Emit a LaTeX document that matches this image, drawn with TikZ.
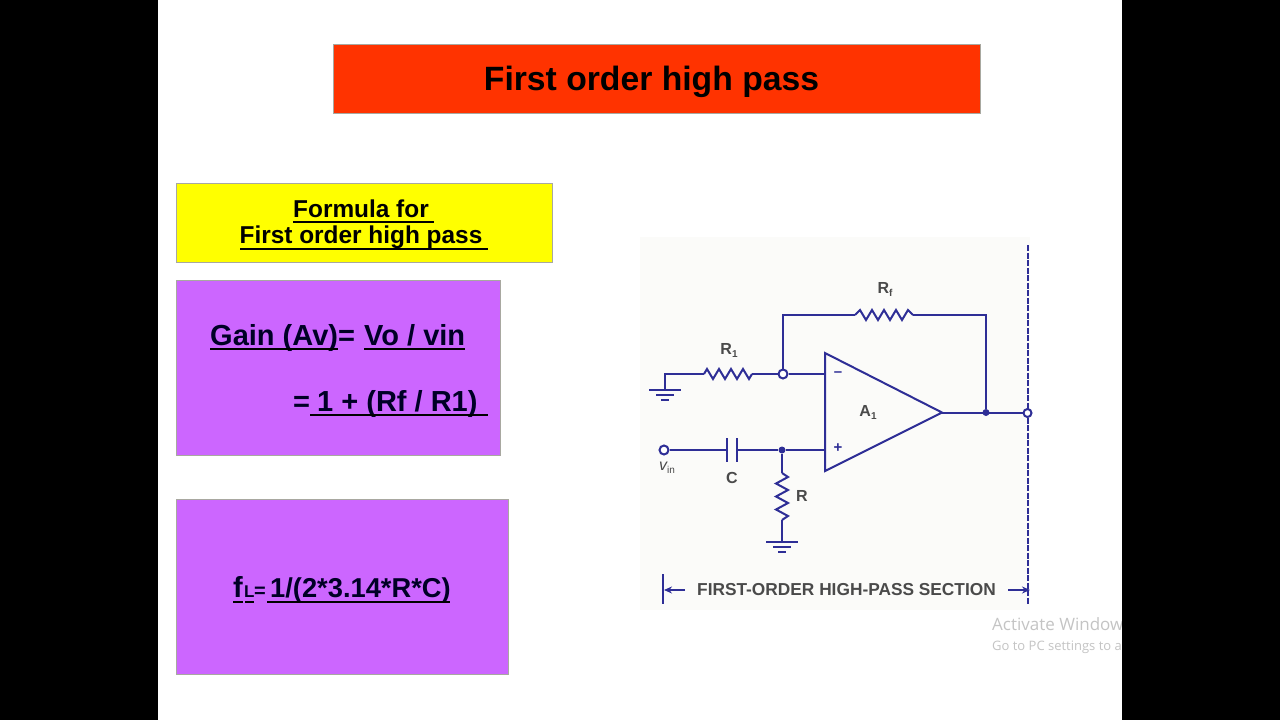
\documentclass[tikz,border=0pt]{standalone}
\usepackage{fontspec}
\setmainfont{Liberation Sans}
\newfontfamily\winfont{Open Sans}
\definecolor{wireblue}{HTML}{2E2E96}
\definecolor{purplebox}{HTML}{CC66FF}
\definecolor{redbox}{HTML}{FF3300}
\definecolor{yellowbox}{HTML}{FFFF00}
\definecolor{boxedge}{HTML}{A8A8A0}
\definecolor{inklabel}{HTML}{4A4A4A}
\definecolor{panel}{HTML}{FBFBF9}
\definecolor{wintext}{HTML}{C4C4C4}
\tikzset{
  wire/.style={draw=wireblue,line width=2pt,line join=miter},
  slidebox/.style={draw=boxedge,line width=0.8pt},
  headline/.style={inner sep=0pt,anchor=base,font=\bfseries\fontsize{24.4}{24.4}\selectfont,text=black},
  formula/.style={inner sep=0pt,anchor=base west,font=\bfseries\fontsize{29}{29}\selectfont,text=black!85!blue},
  uline/.style={draw=black,line width=2pt},
  circlabel/.style={inner sep=0pt,text=inklabel,font=\bfseries\fontsize{16}{16}\selectfont},
  signlabel/.style={inner sep=0pt,text=wireblue,font=\bfseries\fontsize{15}{15}\selectfont},
  terminal/.style={circle,draw=wireblue,fill=white,line width=2pt,minimum size=9pt,inner sep=0pt},
  junction/.style={circle,fill=wireblue,minimum size=7pt,inner sep=0pt},
  opamp/.style={draw=wireblue,line width=2pt,line join=miter},
}
\newcommand{\groundat}[1]{%
  \draw[wire] ($(#1)+(-16,0)$) -- ($(#1)+(16,0)$);
  \draw[wire] ($(#1)+(-9,5)$) -- ($(#1)+(9,5)$);
  \draw[wire] ($(#1)+(-4,10)$) -- ($(#1)+(4,10)$);}
\usetikzlibrary{calc,arrows.meta}
\begin{document}
\begin{tikzpicture}[x=1pt,y=-1pt]
\useasboundingbox (0,0) rectangle (1280,720);
\fill[white] (0,0) rectangle (1280,720);
% slide boxes
\node[slidebox,fill=redbox,anchor=north west,minimum width=647pt,minimum height=69pt,inner sep=0pt] (titlebox) at (332.8,44) {};
\node[slidebox,fill=yellowbox,anchor=north west,minimum width=376pt,minimum height=79pt,inner sep=0pt] (headbox) at (175.8,183) {};
\node[slidebox,fill=purplebox,anchor=north west,minimum width=324pt,minimum height=175pt,inner sep=0pt] (gainbox) at (175.8,280.3) {};
\node[slidebox,fill=purplebox,anchor=north west,minimum width=332pt,minimum height=175pt,inner sep=0pt] (freqbox) at (175.8,498.8) {};
% texts
\node[inner sep=0pt,anchor=base,text=black,font=\bfseries\fontsize{33.7}{33.7}\selectfont] (title) at (651.5,90) {First order high pass};
\node[headline] (h1) at (361,217) {Formula for};
\node[headline] (h2) at (361,243) {First order high pass};
\draw[uline] (293,222) -- (434,222);
\draw[uline] (240,249) -- (488,249);
\node[formula] (g1) at (210,345) {Gain (Av)};
\node[formula] (g2) at (338,345) {=};
\node[formula] (g3) at (364,345) {Vo / vin};
\node[formula] (g4) at (293,411) {=};
\node[formula] (g5) at (317,411) {1 + (Rf / R1)};
\draw[uline] (210,348.5) -- (338,348.5);
\draw[uline] (364,348.5) -- (465,348.5);
\draw[uline] (310,414.5) -- (488,414.5);
\node[formula] (f1) at (233,597) {f};
\node[inner sep=0pt,anchor=base west,font=\bfseries\fontsize{17}{17}\selectfont,text=black!85!blue] (f2) at (244,597) {L};
\node[inner sep=0pt,anchor=base west,font=\bfseries\fontsize{20}{20}\selectfont,text=black!85!blue] (f3) at (254,597) {=};
\node[inner sep=0pt,anchor=base west,font=\bfseries\fontsize{27.3}{27.3}\selectfont,text=black!85!blue] (f4) at (270,597) {1/(2*3.14*R*C)};
\draw[uline] (233,602) -- (243,602);
\draw[uline] (245,602) -- (254,602);
\draw[uline] (267,602) -- (450,602);
% circuit panel
\fill[panel] (640,237) rectangle (1030,610);
\coordinate (amptl) at (825,353);
\coordinate (ampbl) at (825,471);
\coordinate (ampout) at (942,412.5);
\draw[opamp] (amptl) -- (ampout) -- (ampbl) -- cycle;
\coordinate (ampminus) at (825,374);
\coordinate (ampplus) at (825,450);
\node[terminal] (inv) at (783,374) {};
\node[terminal] (vin) at (664,450) {};
\node[junction] (noninv) at (782,450) {};
\node[junction] (fbout) at (986,412.5) {};
\coordinate (gnda) at (665,390);
\coordinate (gndb) at (782,542);
\coordinate (gndacorner) at (665,374);
\coordinate (r1l) at (704,374);
\coordinate (r1r) at (752,374);
\coordinate (rfl) at (855,315);
\coordinate (rfr) at (913,315);
\coordinate (rft) at (783,315);
\coordinate (rfc) at (986,315);
\coordinate (capl) at (727,450);
\coordinate (capr) at (737,450);
\coordinate (rt) at (782,473);
\coordinate (rb) at (782,520);
% feedback and input wires
\draw[wire] (gnda) -- (gndacorner) -- (r1l);
\draw[wire] (r1l) -- ++(3,-5) -- ++(6,10) -- ++(6,-10) -- ++(6,10) -- ++(6,-10) -- ++(6,10) -- ++(6,-10) -- ++(6,10) -- ++(3,-5) -- (r1r);
\draw[wire] (r1r) -- (inv);
\draw[wire] (inv) -- (ampminus);
\draw[wire] (inv.north) -- (rft) -- (rfl);
\draw[wire] (rfl) -- ++(5,-5) -- ++(6,10) -- ++(6,-10) -- ++(6,10) -- ++(6,-10) -- ++(6,10) -- ++(6,-10) -- ++(6,10) -- ++(6,-10) -- ++(5,5) -- (rfr);
\draw[wire] (rfr) -- (rfc) -- (fbout);
\draw[wire] (vin) -- (capl);
\draw[wire] (727,438) -- (727,462);
\draw[wire] (737,438) -- (737,462);
\draw[wire] (capr) -- (noninv) -- (ampplus);
\draw[wire] (noninv) -- (rt);
\draw[wire] (rt) -- ++(6,4) -- ++(-12,6.5) -- ++(12,6.5) -- ++(-12,6.5) -- ++(12,6.5) -- ++(-12,6.5) -- ++(12,6.5) -- ++(-6,4) -- (rb);
\draw[wire] (rb) -- (gndb);
\groundat{gnda}
\groundat{gndb}
\draw[wire] (ampout) -- (1027,412.5);
% section boundary
\draw[wire,dash pattern=on 6pt off 1.5pt] (1028,245) -- (1028,605);
\node[terminal,minimum size=8pt] (vout) at (1027.5,413) {};
\draw[wire] (663,574) -- (663,604);
\coordinate (dimla) at (685,590);
\coordinate (dimlb) at (664,590);
\coordinate (dimra) at (1008,590);
\coordinate (dimrb) at (1030,590);
\draw[wire,-{Stealth[length=8pt,width=7pt]}] (dimla) -- (dimlb);
\draw[wire,-{Stealth[length=8pt,width=7pt]}] (dimra) -- (dimrb);
% circuit labels
\node[signlabel] (lminus) at (838,374) {\textendash};
\node[signlabel] (lplus) at (838,448) {+};
\node[circlabel] (lrf) at (885,289) {R\raisebox{-3pt}{\fontsize{10}{10}\selectfont f}};
\node[circlabel] (lr1) at (729,350) {R\raisebox{-3pt}{\fontsize{10}{10}\selectfont 1}};
\node[circlabel] (la1) at (868,412) {A\raisebox{-3pt}{\fontsize{10}{10}\selectfont 1}};
\node[circlabel,font=\itshape\fontsize{16}{16}\selectfont] (lvin) at (667,468) {\textit{v}\raisebox{-3pt}{\fontsize{10}{10}\selectfont\upshape in}};
\node[circlabel] (lc) at (732,478) {C};
\node[circlabel] (lr) at (802,496) {R};
\node[inner sep=0pt,anchor=west,text=inklabel,font=\bfseries\fontsize{17.3}{17.3}\selectfont] (section) at (697,590) {FIRST-ORDER HIGH-PASS SECTION};
% watermark
\node[inner sep=0pt,anchor=base west,text=wintext,font=\winfont\fontsize{17}{17}\selectfont] (wm1) at (992,630) {Activate Windows};
\node[inner sep=0pt,anchor=base west,text=wintext,font=\winfont\fontsize{13}{13}\selectfont] (wm2) at (992,650) {Go to PC settings to activate Windows.};
% black side bars
\fill[black] (0,0) rectangle (158,720);
\fill[black] (1122,0) rectangle (1280,720);
\end{tikzpicture}
\end{document}
